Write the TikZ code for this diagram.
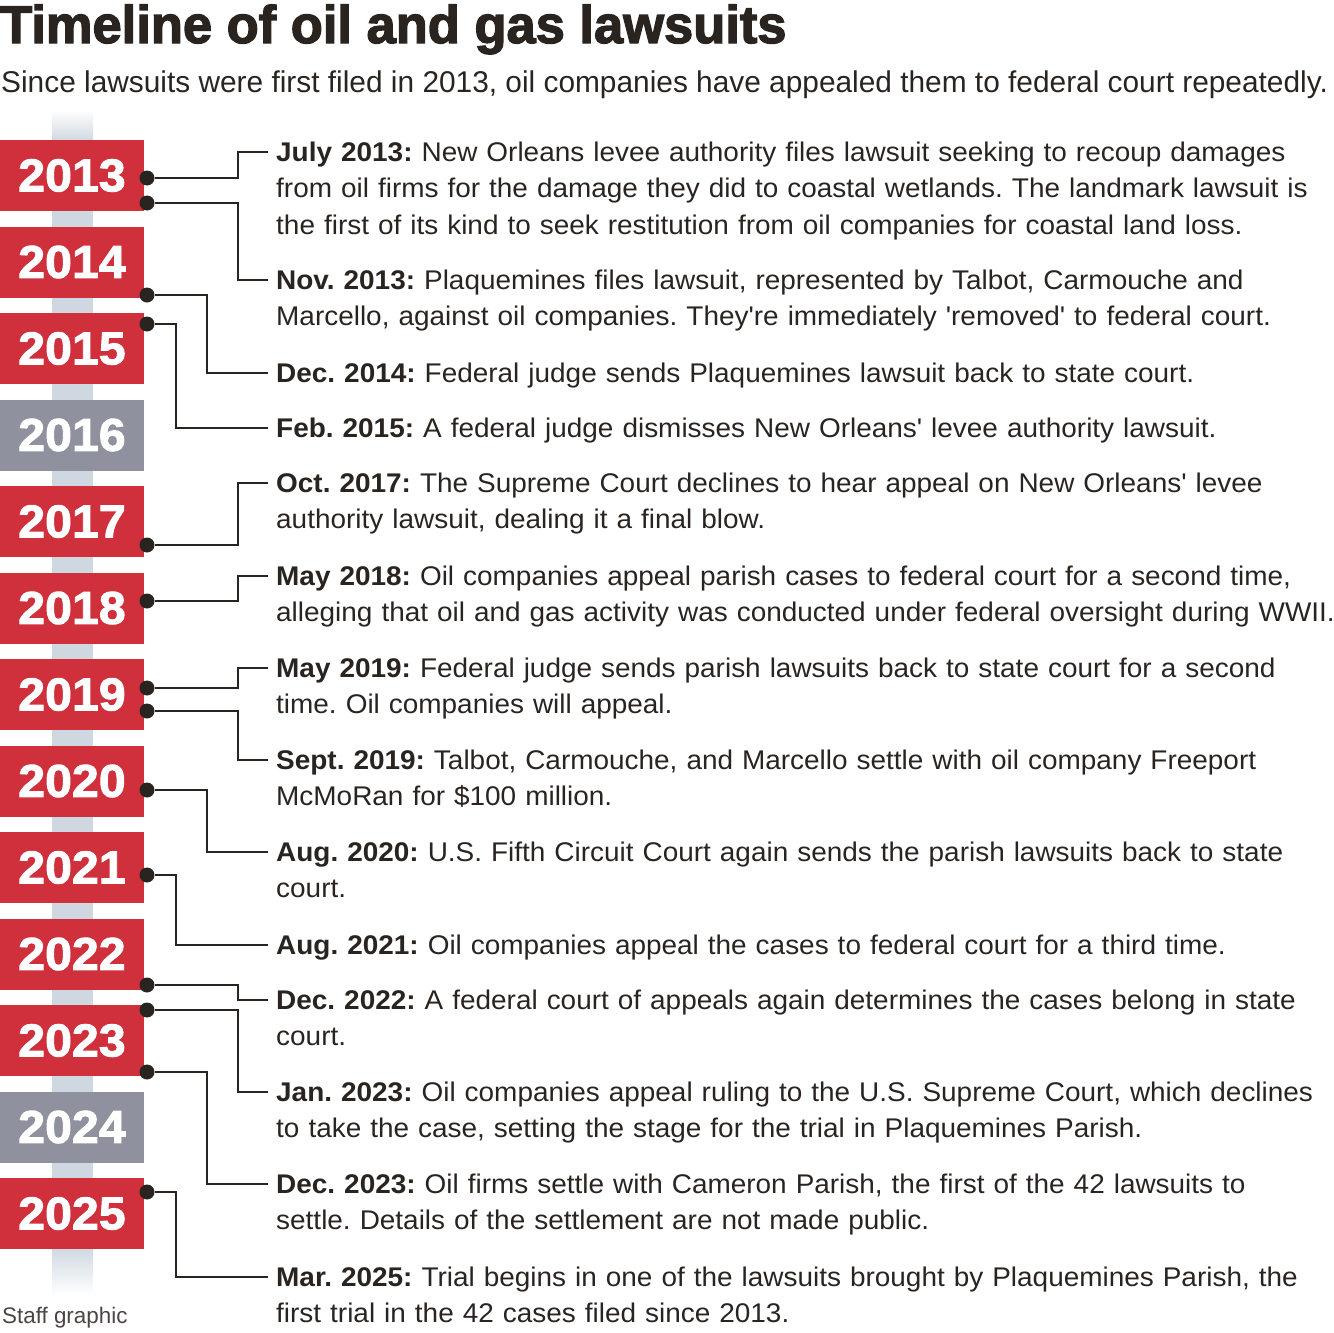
\documentclass[tikz,border=0pt]{standalone}
\usepackage{fontspec}
\setmainfont[FakeStretch=1.035,Ligatures=TeXOff]{Liberation Sans}
\newfontfamily\subfont[FakeStretch=0.995]{Liberation Sans}
\newfontfamily\heavyfont[FakeBold=2.5,FakeStretch=0.99]{Liberation Sans Bold}
\newfontfamily\yearfont[FakeBold=2,FakeStretch=1.05]{Liberation Sans Bold}

\definecolor{ink}{HTML}{2A2421}
\definecolor{oilred}{HTML}{D0303C}
\definecolor{oilgray}{HTML}{8F919F}
\definecolor{railcol}{HTML}{CFD8E0}

\tikzset{
  yearbox/.style={minimum width=144pt, minimum height=71pt, inner sep=0pt,
    text=white, font=\yearfont\fontsize{46}{46}\selectfont},
  joint/.style={circle, fill=ink, inner sep=0pt, minimum size=15pt},
  link/.style={draw=ink, line width=2.5pt},
  entry/.style={anchor=north west, yshift=16.7pt, text width=1200pt, align=left,
    inner sep=0pt, text=ink, font=\fontsize{27}{36.7}\selectfont\frenchspacing,
    execute at begin node=\strut},
}

\begin{document}
\begin{tikzpicture}[x=1pt,y=-1pt]
    \useasboundingbox (0,0) rectangle (1333,1333);

    % title and subtitle
    \node[anchor=base west, inner sep=0pt, text=ink, font=\heavyfont\fontsize{53}{53}\selectfont]
      (title) at (0,43) {Timeline of oil and gas lawsuits};
    \node[anchor=base west, inner sep=0pt, text=ink, font=\subfont\fontsize{30}{30}\selectfont]
      (subtitle) at (1,92) {Since lawsuits were first filed in 2013, oil companies have appealed them to federal court repeatedly.};

    % the rail behind the years
    \fill[railcol] (52,140) rectangle (93,1248);
    \shade[top color=white, bottom color=railcol] (52,110) rectangle (93,141);
    \shade[top color=railcol, bottom color=white] (52,1247) rectangle (93,1295);

    \foreach \yr/\col [count=\i from 0] in {2013/oilred,2014/oilred,2015/oilred,
        2016/oilgray,2017/oilred,2018/oilred,2019/oilred,2020/oilred,2021/oilred,
        2022/oilred,2023/oilred,2024/oilgray,2025/oilred}{%
      \node[yearbox, fill=\col] (y\yr) at (72,{175.5+86.5*\i}) {\yr};
    }

    % events (placed at the height of their first line)
    \node[entry] (jul13) at (276,152) {\textbf{July 2013:} New Orleans levee authority files lawsuit seeking to recoup damages\\
      from oil firms for the damage they did to coastal wetlands. The landmark lawsuit is\\
      the first of its kind to seek restitution from oil companies for coastal land loss.};
    \node[entry] (nov13) at (276,280) {\textbf{Nov. 2013:} Plaquemines files lawsuit, represented by Talbot, Carmouche and\\
      Marcello, against oil companies. They're immediately 'removed' to federal court.};
    \node[entry] (dec14) at (276,373) {\textbf{Dec. 2014:} Federal judge sends Plaquemines lawsuit back to state court.};
    \node[entry] (feb15) at (276,428) {\textbf{Feb. 2015:} A federal judge dismisses New Orleans' levee authority lawsuit.};
    \node[entry] (oct17) at (276,483) {\textbf{Oct. 2017:} The Supreme Court declines to hear appeal on New Orleans' levee\\
      authority lawsuit, dealing it a final blow.};
    \node[entry] (may18) at (276,576) {\textbf{May 2018:} Oil companies appeal parish cases to federal court for a second time,\\
      alleging that oil and gas activity was conducted under federal oversight during WWII.};
    \node[entry] (may19) at (276,668) {\textbf{May 2019:} Federal judge sends parish lawsuits back to state court for a second\\
      time. Oil companies will appeal.};
    \node[entry] (sep19) at (276,760) {\textbf{Sept. 2019:} Talbot, Carmouche, and Marcello settle with oil company Freeport\\
      McMoRan for \$100 million.};
    \node[entry] (aug20) at (276,852) {\textbf{Aug. 2020:} U.S. Fifth Circuit Court again sends the parish lawsuits back to state\\
      court.};
    \node[entry] (aug21) at (276,945) {\textbf{Aug. 2021:} Oil companies appeal the cases to federal court for a third time.};
    \node[entry] (dec22) at (276,1000) {\textbf{Dec. 2022:} A federal court of appeals again determines the cases belong in state\\
      court.};
    \node[entry] (jan23) at (276,1092) {\textbf{Jan. 2023:} Oil companies appeal ruling to the U.S. Supreme Court, which declines\\
      to take the case, setting the stage for the trial in Plaquemines Parish.};
    \node[entry] (dec23) at (276,1184) {\textbf{Dec. 2023:} Oil firms settle with Cameron Parish, the first of the 42 lawsuits to\\
      settle. Details of the settlement are not made public.};
    \node[entry] (mar25) at (276,1277) {\textbf{Mar. 2025:} Trial begins in one of the lawsuits brought by Plaquemines Parish, the\\
      first trial in the 42 cases filed since 2013.};

    \foreach \e in {jul13,nov13,dec14,feb15,oct17,may18,may19,sep19,aug20,aug21,dec22,jan23,dec23,mar25}
      \coordinate (\e-in) at ([shift={(-8,16.7)}]\e.north west);

    % dots on the year boxes
    \foreach \name/\dy in {d13a/178,d13b/203,d14/295,d15/324,d17/545,d18/601,d19a/688,
        d19b/711,d20/790,d21/875,d22/985,d23a/1010,d23b/1072,d25/1192}
      \node[joint] (\name) at (147,\dy) {};

    \foreach \d/\e/\s in {d13a/jul13/30,d13b/nov13/30,d14/dec14/61,d15/feb15/92,
        d17/oct17/30,d18/may18/30,d19a/may19/30,d19b/sep19/30,d20/aug20/61,
        d21/aug21/92,d22/dec22/30,d23a/jan23/30,d23b/dec23/61,d25/mar25/92}
      \draw[link] (\d) -| ([xshift=-\s pt]\e-in) -- (\e-in);

    \node[anchor=base west, inner sep=0pt, text=ink!85, font=\subfont\fontsize{22.5}{22.5}\selectfont]
      (credit) at (2,1323) {Staff graphic};
\end{tikzpicture}
\end{document}
